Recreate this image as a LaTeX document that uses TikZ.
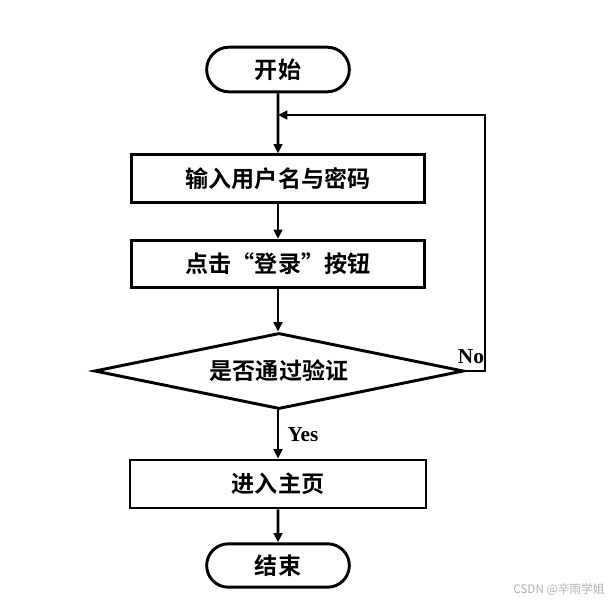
\documentclass[tikz,border=0pt]{standalone}
\usepackage{fontspec}
\newfontfamily\cjk{Noto Sans CJK SC}[BoldFont={* Bold}]
\newfontfamily\lat{Liberation Serif}
\newfontfamily\wm{Noto Sans CJK SC}
\usetikzlibrary{shapes.geometric,shapes.misc,arrows.meta}
\begin{document}
\begin{tikzpicture}[x=0.75pt,y=-0.75pt,
  base/.style={draw=black,line width=2.2pt,inner sep=0pt,font=\cjk\bfseries\fontsize{17.3}{19}\selectfont},
  term/.style={base,rounded rectangle,minimum width=107pt,minimum height=33.5pt},
  proc/.style={base,rectangle,minimum width=220pt,minimum height=35.5pt},
  dec/.style={base,diamond,aspect=4.77,minimum width=277pt,minimum height=57pt},
  arr/.style={line width=2.2pt,-{Triangle[length=7pt,width=6.5pt]}},
  lbl/.style={font=\lat\bfseries\fontsize{16}{18}\selectfont,inner sep=0pt}]
\useasboundingbox[fill=white] (0,0) rectangle (611,600);
\node[term] (start) at (278,69.5) {开始};
\node[proc] (b1) at (278,178.5) {输入用户名与密码};
\node[proc] (b2) at (278,264) {点击“登录”按钮};
\node[dec] (d) at (279,371) {是否通过验证};
\node[proc,minimum width=222pt,minimum height=36pt] (b3) at (278,484) {进入主页};
\node[term,minimum height=32.5pt] (end) at (278,565.5) {结束};
\coordinate (join) at (278,115);
\coordinate (rt) at (485,371);
\draw[arr] (start) -- (b1);
\draw[arr] (b1) -- (b2);
\draw[arr] (b2) -- (d.north -| b2.south);
\draw[arr] (d.south -| b3.north) -- (b3);
\draw[arr] (b3) -- (end);
\draw[arr] (d.east) -- (rt) |- (join);
\node[lbl] (no) at (471,357) {No};
\node[lbl] (yes) at (303,435) {Yes};
\node[font=\wm\fontsize{8.8}{10}\selectfont,text=gray!60,inner sep=0pt] (wmk) at (559,590) {CSDN @辛雨学姐};
\end{tikzpicture}
\end{document}
